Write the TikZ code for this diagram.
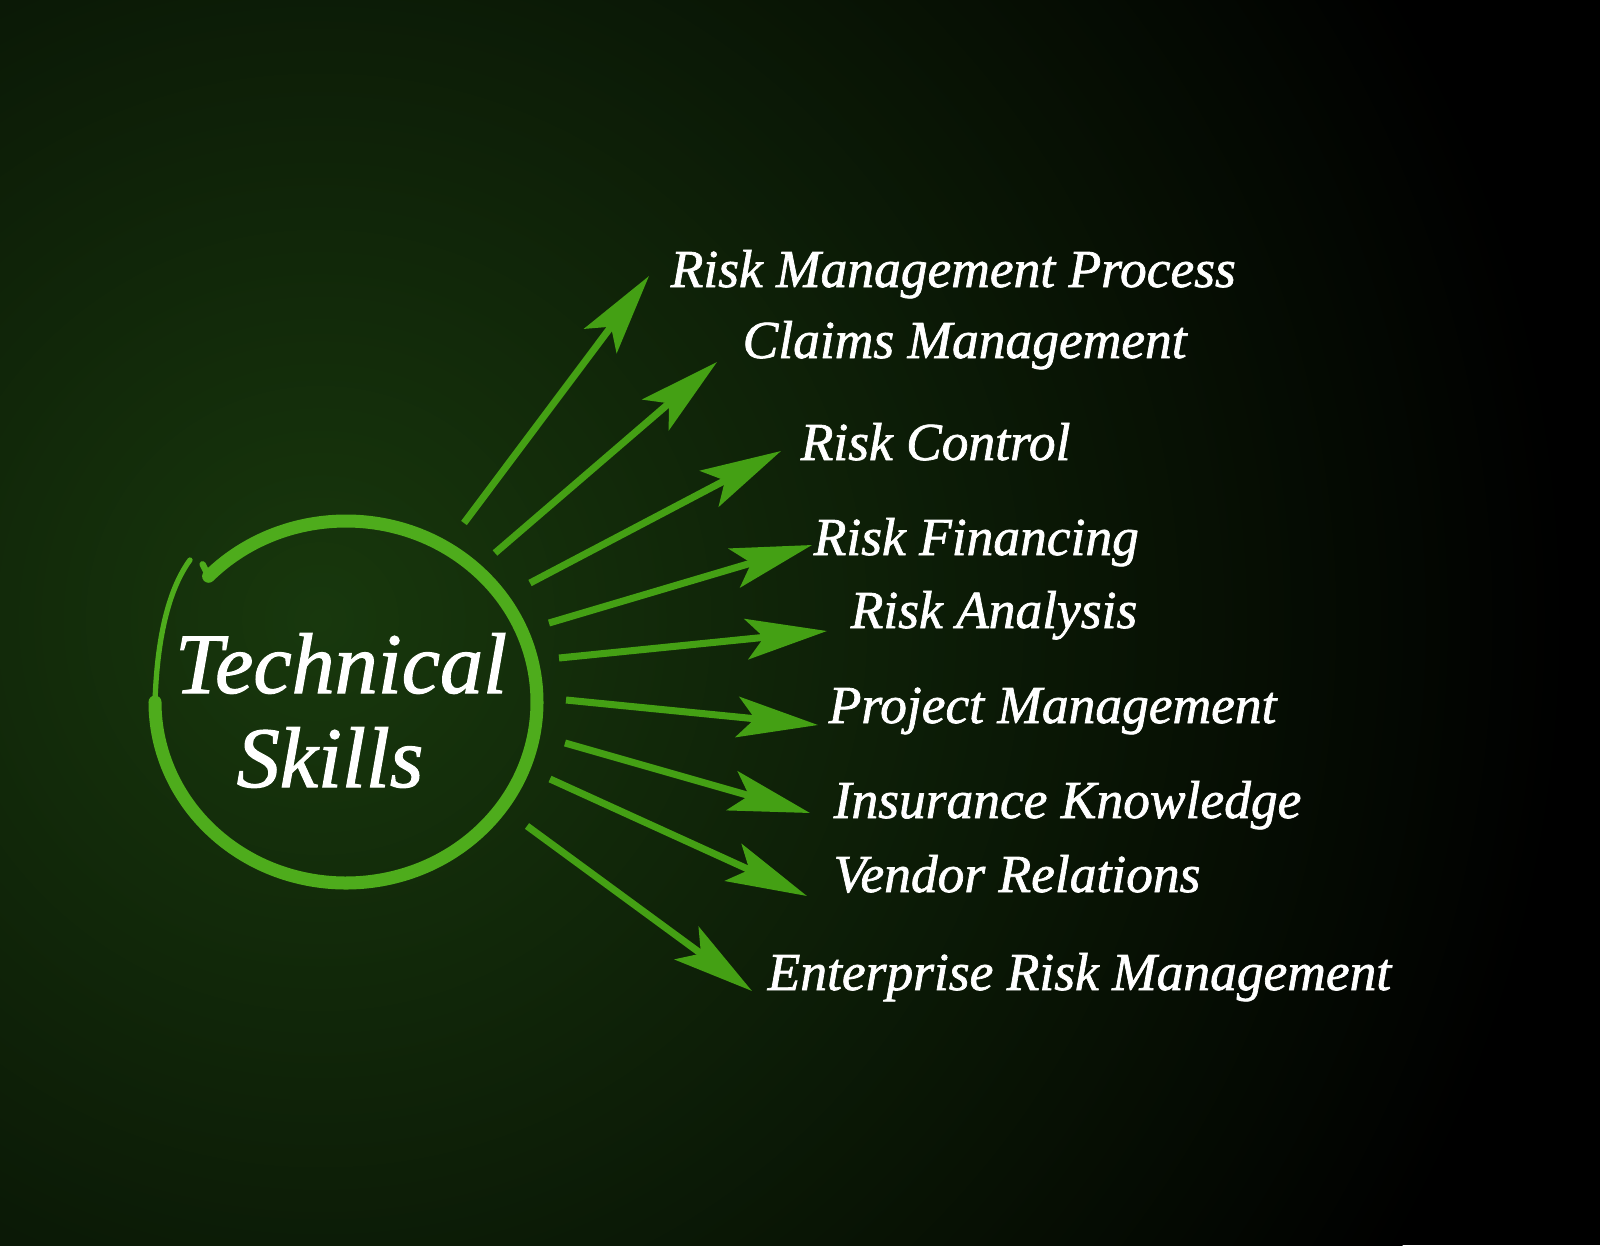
\documentclass[tikz,border=0pt]{standalone}
\usepackage{fontspec}
\setmainfont{Liberation Serif}[ItalicFeatures={FakeBold=1.3}]
\usetikzlibrary{arrows.meta,calc}

\definecolor{bginner}{RGB}{24,56,13}
\definecolor{ringgreen}{RGB}{78,172,28}
\definecolor{arrowgreen}{RGB}{68,160,20}

\tikzset{
  skillarrow/.style={draw=arrowgreen, line width=2pt,
    -{Stealth[length=23pt, width=11.5pt, inset=5pt, fill=arrowgreen]}},
  skilllabel/.style={anchor=base west, inner sep=0pt, text=white,
    font=\fontsize{15.2}{18}\selectfont\itshape},
  centrelabel/.style={anchor=base, inner sep=0pt, text=white,
    font=\fontsize{24.5}{27}\selectfont\itshape},
  ring/.style={draw=ringgreen, line cap=round, line join=round}
}

\begin{document}
\begin{tikzpicture}[x=0.01cm, y=-0.01cm]
\useasboundingbox (0,0) rectangle (1600,1245);
% background
\begin{scope}
\clip (0,0) rectangle (1600,1245);
\fill[black] (0,0) rectangle (1600,1245);
\shade[inner color=bginner, outer color=black] (320,620) circle (1250);
\end{scope}

% hand drawn ring
\coordinate (ringc) at (346,702);
\draw[ring, line width=3.7pt] ($(ringc)+(224:191 and 181)$) arc[start angle=224, end angle=540, x radius=191, y radius=181];
\draw[ring, line width=1.5pt] (155,702) .. controls (157,640) and (168,590) .. (190,560);
\draw[ring, line width=1.8pt] ($(ringc)+(224:191 and 181)$) -- ++(-6,-12);

\node[centrelabel] (techA) at (341,693) {Technical};
\node[centrelabel] (techB) at (330,787) {Skills};

% arrows and labels
\foreach \i/\sx/\sy/\tx/\ty/\lx/\ly/\txt in {
  1/464/523/649/276/670/287/Risk Management Process,
  2/495/553/717/362/742/358/Claims Management,
  3/530/583/781/451/800/460/Risk Control,
  4/549/623/812/545/813/555/Risk Financing,
  5/559/658/827/631/850/628/Risk Analysis,
  6/566/700/818/725/828/723/Project Management,
  7/565/743/810/813/833/818/Insurance Knowledge,
  8/550/779/807/896/833/892/Vendor Relations,
  9/527/826/752/991/767/990/Enterprise Risk Management}
{
  \coordinate (s\i) at (\sx,\sy);
  \coordinate (t\i) at (\tx,\ty);
  \draw[skillarrow] (s\i) -- (t\i);
  \node[skilllabel] (lab\i) at (\lx,\ly) {\txt};
}
\end{tikzpicture}
\end{document}
